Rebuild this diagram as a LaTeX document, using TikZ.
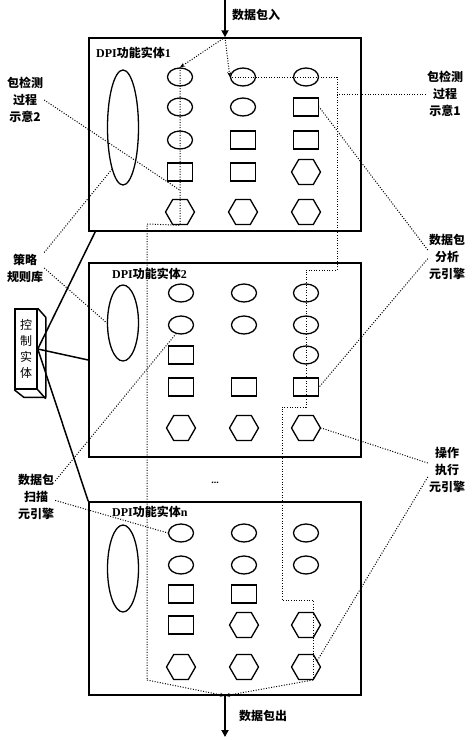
\documentclass[tikz,border=0pt]{standalone}
\usepackage{fontspec}
\setmainfont{Liberation Serif}
\newfontfamily\cjk{Noto Sans CJK SC}
\usetikzlibrary{arrows.meta, positioning, shapes.geometric, calc}

\newcommand{\dpiname}[1]{DPI{\cjk\bfseries 功能实体}#1}

\tikzset{
  entity/.style={draw, line width=1.5pt, minimum width=272pt, inner sep=0pt},
  oval/.style={draw, ellipse, line width=1.3pt, minimum width=25pt, minimum height=18pt, inner sep=0pt},
  rectbox/.style={draw, line width=1.3pt, minimum width=25pt, minimum height=18pt, inner sep=0pt},
  hex/.style={draw, regular polygon, regular polygon sides=6, line width=1.3pt, minimum size=29pt, inner sep=0pt},
  blank/.style={inner sep=0pt},
  rulebase/.style={draw, ellipse, line width=1.3pt, minimum width=31pt, inner sep=0pt},
  flow/.style={line width=1pt, dash pattern=on 1pt off 1.6pt},
  dotarrow/.style={-{Stealth[length=5pt,width=4pt]}},
  link/.style={line width=1.5pt},
  io/.style={line width=1.8pt, -{Triangle[length=7pt,width=7pt]}},
  note/.style={font=\cjk\bfseries\fontsize{12}{17}\selectfont, align=center, inner sep=1pt},
  enttitle/.style={font=\fontsize{12}{14}\selectfont\bfseries, anchor=west, inner sep=0pt},
}

\begin{document}
\begin{tikzpicture}[x=1pt, y=-1pt]
  \useasboundingbox (0,0) rectangle (474,740);

  % DPI entities
  \node[entity, minimum height=193pt] (ent1) at (225,134.5) {};
  \node[entity, minimum height=194pt] (ent2) at (225,360) {};
  \node[entity, minimum height=193pt] (entn) at (225,598.5) {};
  \node[enttitle] (title1) at (96,53) {\dpiname{1}};
  \node[enttitle] (title2) at (112,274) {\dpiname{2}};
  \node[enttitle] (titlen) at (112,512) {\dpiname{n}};
  \node[font=\fontsize{10}{12}\selectfont\bfseries] (dots) at (215,483) {...};

  % rule bases
  \node[rulebase, minimum height=115pt] (elp1) at (123,127.5) {};
  \node[rulebase, minimum height=76pt] (elp2) at (123,323) {};
  \node[rulebase, minimum height=87pt] (elpn) at (123,568.5) {};

  % engines
  \foreach \y/\a/\b/\c [count=\r] in {77/oval/oval/oval, 107/oval/oval/rectbox,
      140/oval/rectbox/rectbox, 172/rectbox/rectbox/hex, 212/hex/hex/hex}{
    \node[\a] (p1-\r-1) at (180,\y) {};
    \node[\b] (p1-\r-2) at (243,\y) {};
    \node[\c] (p1-\r-3) at (306,\y) {};
  }
  \foreach \y/\a/\b/\c [count=\r] in {293/oval/oval/oval, 325/oval/oval/oval,
      355/rectbox/blank/oval, 387/rectbox/rectbox/rectbox, 428/hex/hex/hex}{
    \node[\a] (p2-\r-1) at (181,\y) {};
    \node[\b] (p2-\r-2) at (244,\y) {};
    \node[\c] (p2-\r-3) at (306,\y) {};
  }
  \foreach \y/\a/\b/\c [count=\r] in {533/oval/oval/oval, 565/oval/oval/oval,
      594/rectbox/rectbox/blank, 625/rectbox/hex/hex, 667/hex/hex/hex}{
    \node[\a] (pn-\r-1) at (181,\y) {};
    \node[\b] (pn-\r-2) at (244,\y) {};
    \node[\c] (pn-\r-3) at (306,\y) {};
  }

  % control entity
  \node[draw, line width=1.5pt, minimum width=22pt, minimum height=80pt, inner sep=0pt,
        align=center, font=\cjk\fontsize{12}{16}\selectfont] (ctrl) at (26,349) {控\\制\\实\\体};
  \draw[link, line join=round] (ctrl.north east) -- ++(8,9) -- ++(0,80) -- ++(-22,0) -- (ctrl.south west);
  \draw[link] (ctrl.south east) -- ++(8,9);
  \draw[link] (ctrl.east) -- ([xshift=7pt]ent1.south west);
  \draw[link] (ctrl.east) -- (ent2.west);
  \draw[link] (ctrl.east) -- (entn.north west);

  % packets in and out
  \coordinate (intop) at (225,0);
  \coordinate (outend) at (225,737);
  \draw[io] (intop) -- (ent1.north);
  \draw[io] (entn.south) -- (outend);
  \node[note, anchor=west] (inlbl) at (231,15) {数据包入};
  \node[note, anchor=west] (outlbl) at (238,716) {数据包出};

  % packet paths
  \coordinate (l2) at (147,224);
  \coordinate (l3) at (147,680);
  \coordinate (r1) at (337,77);
  \coordinate (r3) at (306,270);
  \coordinate (r5) at (282,407);
  \coordinate (r7) at (313,600);
  \coordinate (r8) at (313,680);
  \draw[flow, dotarrow] (ent1.north) -- (p1-1-1.north);
  \draw[flow, dotarrow] (ent1.north) -- (p1-1-2.west);
  \draw[flow] (p1-1-1.north) -- (p1-5-1.south) -- (l2) -- (l3);
  \draw[flow] (p1-1-2.west) -- (r1) |- (r3) |- (r5) |- (r7) -- (r8);
  \draw[flow, dotarrow] (l3) -- (entn.south);
  \draw[flow, dotarrow] (r8) -- (entn.south);

  % notes
  \node[note] (lab1) at (445,94) {包检测\\过程\\示意1};
  \node[note] (lab2) at (25,100) {包检测\\过程\\示意2};
  \node[note] (rules) at (25,268) {策略\\规则库};
  \node[note] (ana) at (447,257) {数据包\\分析\\元引擎};
  \node[note] (ops) at (447,470) {操作\\执行\\元引擎};
  \node[note] (scan) at (36,497) {数据包\\扫描\\元引擎};
  \draw[flow] (lab1.west) -- (lab1.west -| r1);
  \draw[flow] (lab2.east) -- ($(p1-4-1.south)!0.5!(p1-5-1.north)$);
  \draw[flow] (rules.north east) -- (elp1.255);
  \draw[flow] (rules.east) -- (elp2.west);
  \draw[flow] (ana.160) -- (p1-2-3.east);
  \draw[flow] (ana.185) -- (p2-4-3.east);
  \draw[flow] (ops.160) -- (p2-5-3.east);
  \draw[flow] (ops.200) -- (pn-5-3.30);
  \draw[flow] (scan.40) -- (p2-2-1.240);
  \draw[flow] (scan.-10) -- (pn-1-1.west);
\end{tikzpicture}
\end{document}
